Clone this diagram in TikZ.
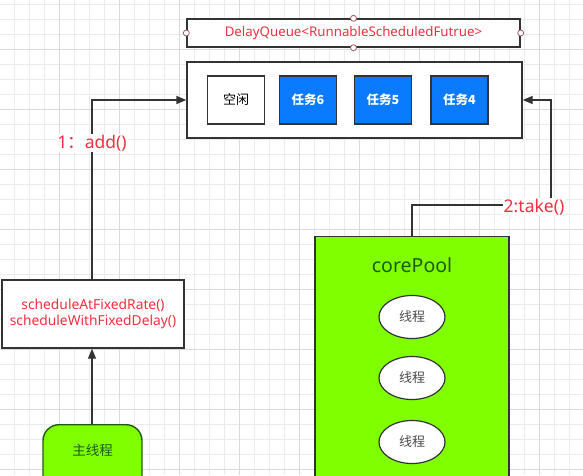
\documentclass[tikz,border=0pt]{standalone}
\usepackage{fontspec}
\setmainfont{Noto Sans}
\newfontfamily\cjk{Noto Sans CJK SC}
\usetikzlibrary{arrows.meta,shapes.geometric}
\definecolor{gridminor}{HTML}{EBEBEB}
\definecolor{gridmajor}{HTML}{DADADA}
\definecolor{edge}{HTML}{333333}
\definecolor{redtxt}{HTML}{F0303E}
\definecolor{taskblue}{HTML}{0A7BFF}
\definecolor{limegreen}{HTML}{7FFF00}
\definecolor{darkgreentxt}{HTML}{1F5A10}
\definecolor{handle}{HTML}{A05A66}
\tikzset{
  box/.style={draw=edge, line width=1.4pt, fill=white, inner sep=0pt},
  taskbox/.style={draw=edge, line width=1.2pt, fill=taskblue, text=white, font=\cjk\bfseries\fontsize{12.5}{14}\selectfont, minimum width=57pt, minimum height=48pt, inner sep=0pt},
  idlebox/.style={draw=edge, line width=1.2pt, fill=white, text=black, font=\cjk\fontsize{13}{15}\selectfont, minimum width=57pt, minimum height=48pt, inner sep=0pt},
  conn/.style={draw=edge, line width=1.4pt, -{Triangle[length=10pt,width=8pt]}},
  lbl/.style={text=redtxt, fill=white, inner sep=1pt},
  thread/.style={ellipse, draw=edge, line width=1.2pt, fill=white, minimum width=66pt, minimum height=43pt, inner sep=0pt, font=\cjk\fontsize{13}{15}\selectfont, text=black!70},
  handlec/.style={circle, draw=handle, fill=white, line width=0.8pt, minimum size=6pt, inner sep=0pt}
}
\begin{document}
\begin{tikzpicture}[x=1pt,y=-1pt]
\useasboundingbox (0,0) rectangle (583,475);
\clip (0,0) rectangle (583,475);
\fill[white] (0,0) rectangle (583,475);
% grid
\foreach \gx in {-1,14,...,584} {\draw[gridminor, line width=0.6pt] (\gx,0) -- (\gx,475);}
\foreach \gy in {4,19,...,476} {\draw[gridminor, line width=0.6pt] (0,\gy) -- (583,\gy);}
\foreach \gx in {59,119,...,584} {\draw[gridmajor, line width=0.7pt] (\gx,0) -- (\gx,475);}
\foreach \gy in {49,109,...,476} {\draw[gridmajor, line width=0.7pt] (0,\gy) -- (583,\gy);}

% DelayQueue title box
\node[box, minimum width=333pt, minimum height=28pt, text=redtxt, font=\fontsize{13.3}{15}\selectfont] (dq) at (353.5,33) {DelayQueue<RunnableScheduledFutrue>};
\node[handlec] (h1) at (dq.west) {};
\node[handlec] (h2) at (dq.east) {};
\node[handlec] (h3) at (dq.north) {};
\node[handlec] (h4) at (dq.south) {};

% queue box
\node[box, minimum width=335pt, minimum height=76pt] (q) at (354.5,100) {};
\node[idlebox] (idle) at (236,100) {空闲};
\node[taskbox] (t6) at (308,100) {任务6};
\node[taskbox] (t5) at (383,100) {任务5};
\node[taskbox] (t4) at (459.5,100) {任务4};

% schedule box
\node[box, minimum width=182pt, minimum height=68pt, text=redtxt, font=\fontsize{13.8}{16}\selectfont, align=center] (sch) at (93,314) {scheduleAtFixedRate()\\scheduleWithFixedDelay()};

% main thread
\node[draw=darkgreentxt, line width=1.4pt, fill=limegreen, rounded corners=16pt, minimum width=99pt, minimum height=70pt, anchor=north, inner sep=0pt] (mt) at (92.5,424) {};
\node[text=darkgreentxt, font=\cjk\fontsize{13.5}{15}\selectfont] (mtl) at (92.5,450) {主线程};

% core pool
\node[draw=edge, line width=1.4pt, fill=limegreen, minimum width=194pt, minimum height=260pt, anchor=north, inner sep=0pt] (cp) at (412,236) {};
\node[text=darkgreentxt, font=\fontsize{19.5}{22}\selectfont] (cpl) at (412,265) {corePool};
\node[thread] (th1) at (412,317) {线程};
\node[thread] (th2) at (412,378) {线程};
\node[thread] (th3) at (412,442) {线程};

% connectors
\coordinate (c1) at (92,100);
\draw[conn] (sch.north -| c1) -- (c1) -- (q.west);
\node[lbl, font=\fontsize{17.5}{20}\selectfont] (addl) at (92,143) {1{\cjk ：}add()};

\coordinate (c2) at (412,205);
\coordinate (c3) at (551,205);
\coordinate (c4) at (551,100);
\draw[conn] (cp.north -| c2) -- (c2) -- (c3) -- (c4) -- (q.east);
\node[lbl, font=\fontsize{17.5}{20}\selectfont] (takel) at (534,207) {2:take()};

\draw[conn] (mt.north -| c1) -- (sch.south -| c1);
\end{tikzpicture}
\end{document}
